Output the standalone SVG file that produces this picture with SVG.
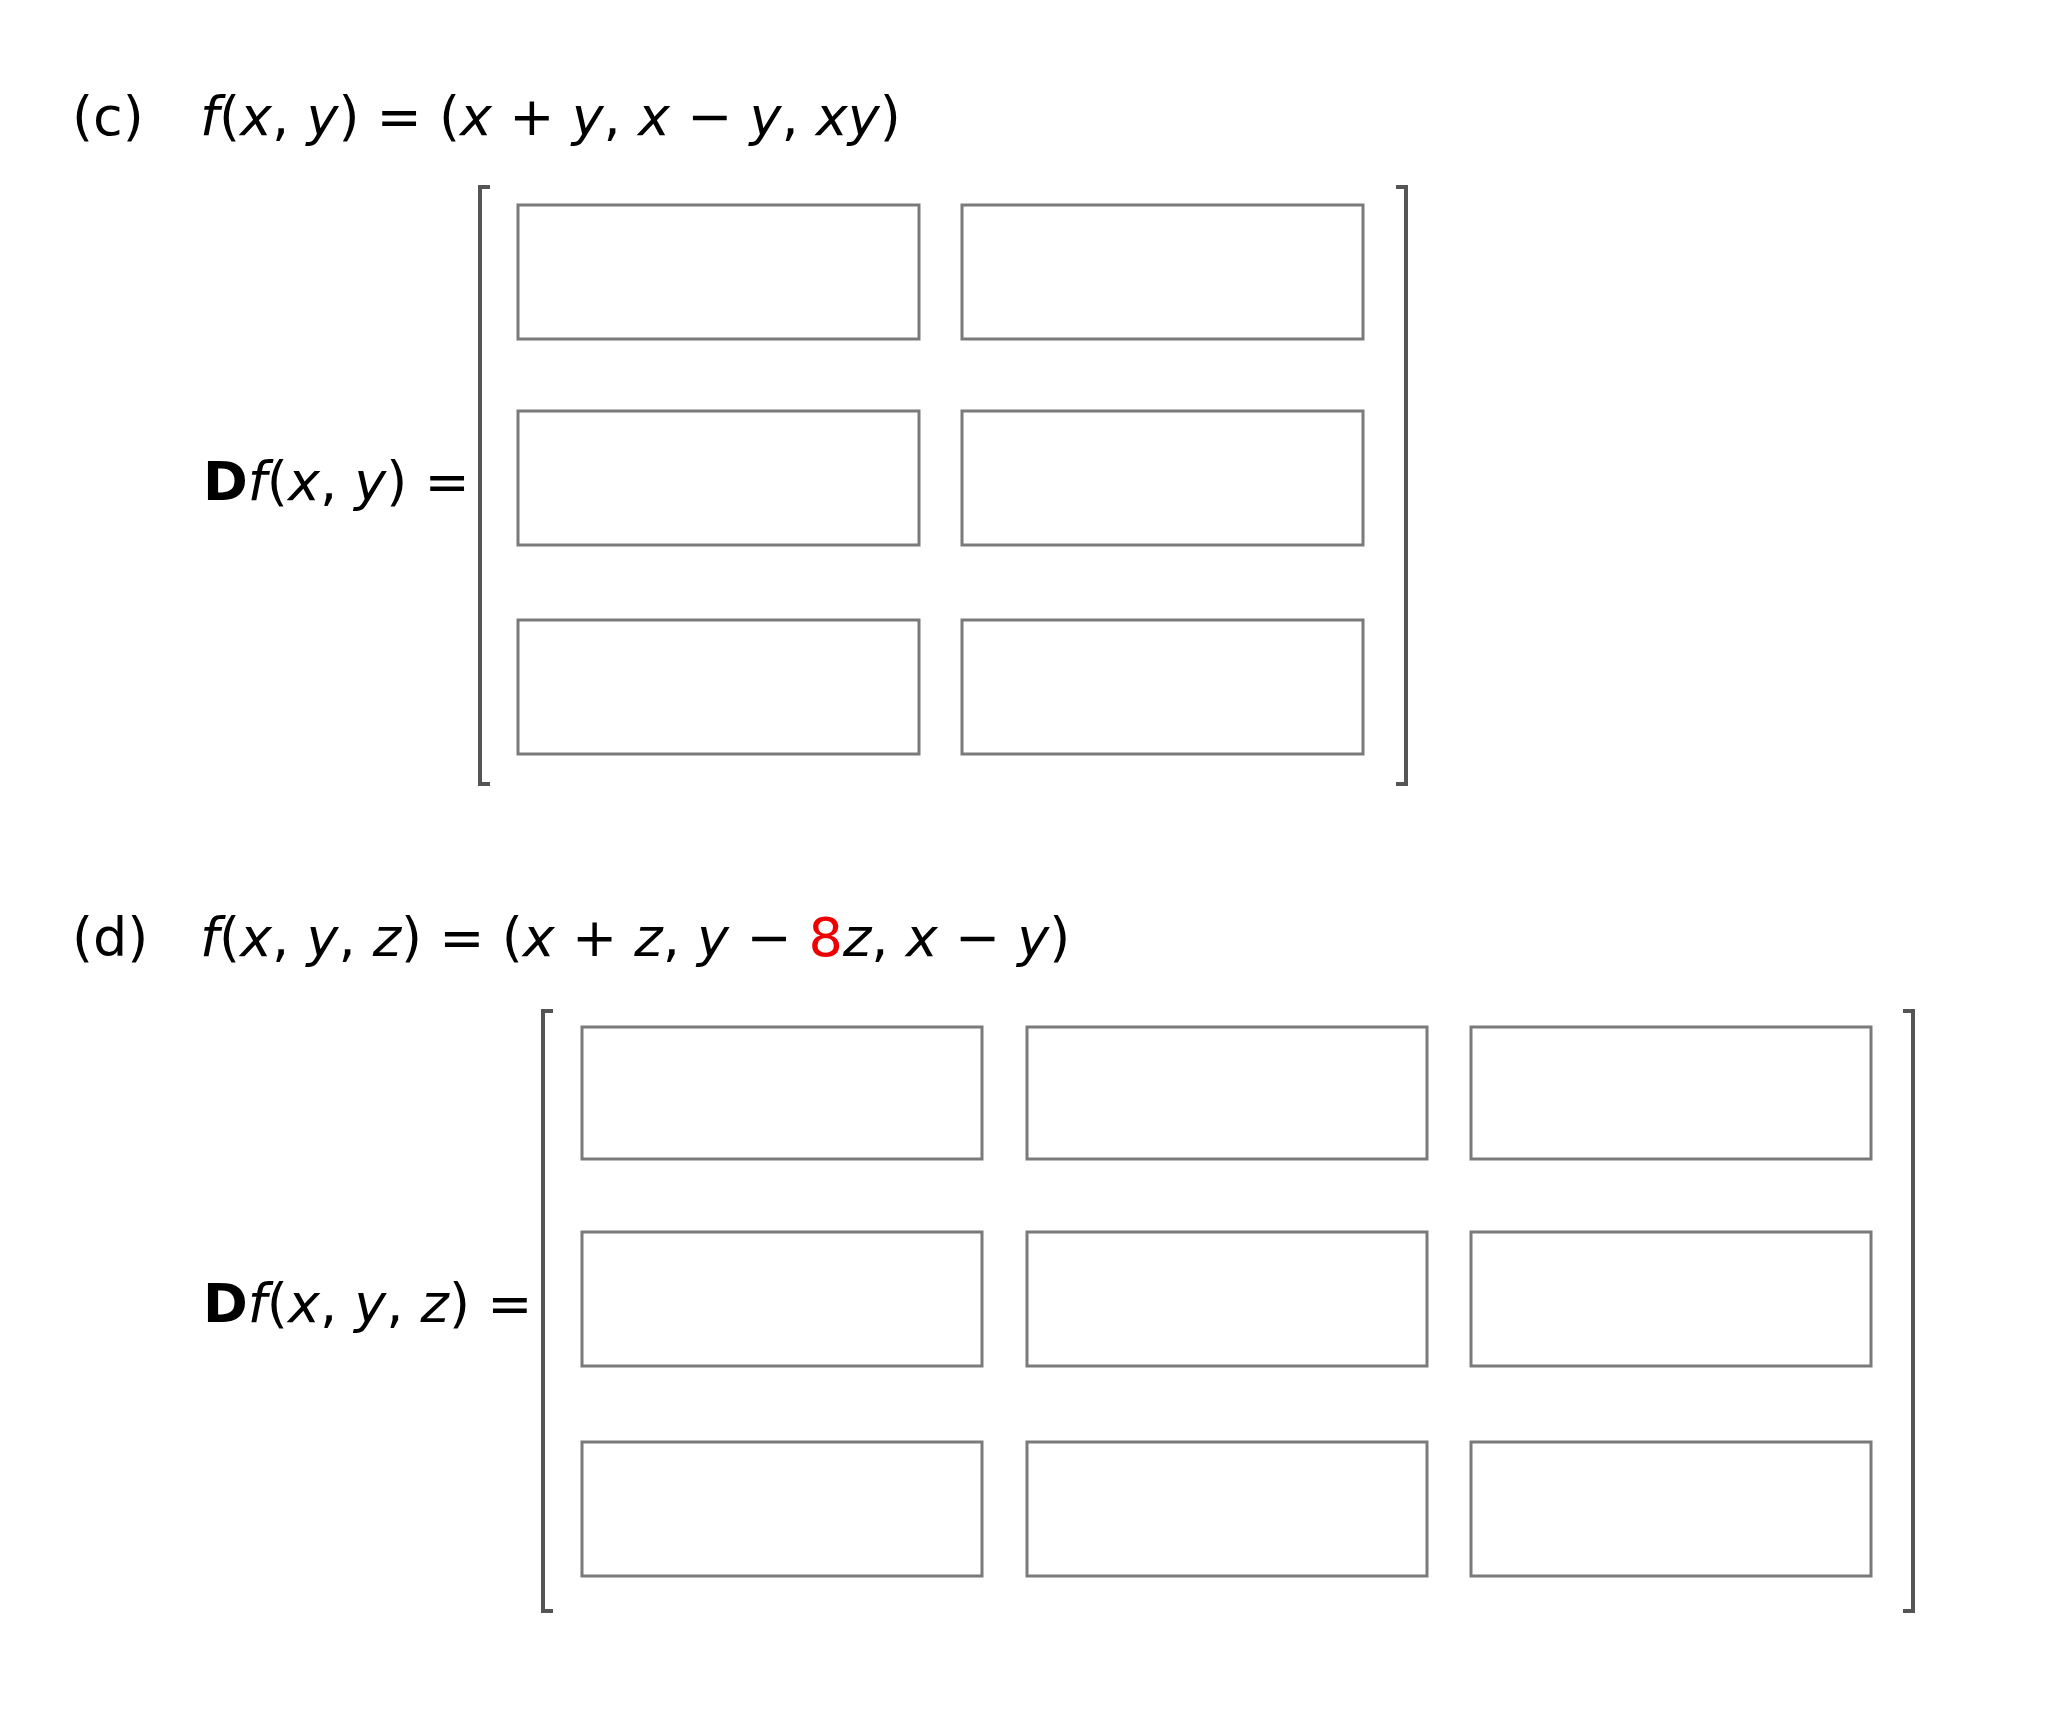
<svg xmlns="http://www.w3.org/2000/svg" width="2046" height="1716" viewBox="0 0 2046 1716">
<style>
text{font-family:"DejaVu Sans",Verdana,sans-serif;font-size:54px;fill:#000}
.i{font-style:italic}
.b{font-weight:bold}
.box{fill:#fff;stroke:#7a7a7a;stroke-width:3}
.br{fill:none;stroke:#555;stroke-width:4}
</style>
<rect width="2046" height="1716" fill="#fff"/>
<g id="title-c">
<text x="72" y="135">(c)</text>
<text x="200" y="135"><tspan class="i">f</tspan>(<tspan class="i">x</tspan>, <tspan class="i">y</tspan>) = (<tspan class="i">x</tspan> + <tspan class="i">y</tspan>, <tspan class="i">x</tspan> − <tspan class="i">y</tspan>, <tspan class="i">xy</tspan>)</text>
</g>
<g id="label-c"><text x="203" y="500"><tspan class="b">D</tspan><tspan class="i">f</tspan>(<tspan class="i">x</tspan>, <tspan class="i">y</tspan>) =</text></g>
<g id="matrix-c">
<path class="br" d="M490 187 H480 V784 H490"/>
<path class="br" d="M1396 187 H1406 V784 H1396"/>
<rect class="box" x="518" y="205" width="401" height="134"/>
<rect class="box" x="962" y="205" width="401" height="134"/>
<rect class="box" x="518" y="411" width="401" height="134"/>
<rect class="box" x="962" y="411" width="401" height="134"/>
<rect class="box" x="518" y="620" width="401" height="134"/>
<rect class="box" x="962" y="620" width="401" height="134"/>
</g>
<g id="title-d">
<text x="72" y="956">(d)</text>
<text x="200" y="956"><tspan class="i">f</tspan>(<tspan class="i">x</tspan>, <tspan class="i">y</tspan>, <tspan class="i">z</tspan>) = (<tspan class="i">x</tspan> + <tspan class="i">z</tspan>, <tspan class="i">y</tspan> − <tspan fill="#e00">8</tspan><tspan class="i">z</tspan>, <tspan class="i">x</tspan> − <tspan class="i">y</tspan>)</text>
</g>
<g id="label-d"><text x="203" y="1322"><tspan class="b">D</tspan><tspan class="i">f</tspan>(<tspan class="i">x</tspan>, <tspan class="i">y</tspan>, <tspan class="i">z</tspan>) =</text></g>
<g id="matrix-d">
<path class="br" d="M553 1011 H543 V1611 H553"/>
<path class="br" d="M1903 1011 H1913 V1611 H1903"/>
<rect class="box" x="582" y="1027" width="400" height="132"/>
<rect class="box" x="1027" y="1027" width="400" height="132"/>
<rect class="box" x="1471" y="1027" width="400" height="132"/>
<rect class="box" x="582" y="1232" width="400" height="134"/>
<rect class="box" x="1027" y="1232" width="400" height="134"/>
<rect class="box" x="1471" y="1232" width="400" height="134"/>
<rect class="box" x="582" y="1442" width="400" height="134"/>
<rect class="box" x="1027" y="1442" width="400" height="134"/>
<rect class="box" x="1471" y="1442" width="400" height="134"/>
</g>
</svg>
